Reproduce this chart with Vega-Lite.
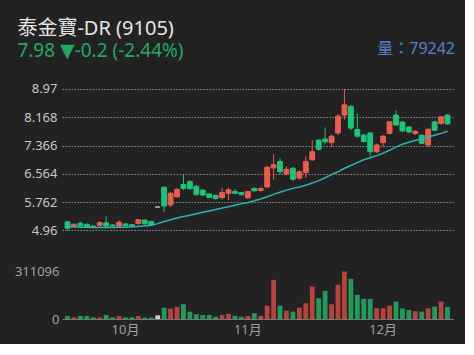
{
  "$schema": "https://vega.github.io/schema/vega-lite/v6.json",
  "background": "#222222",
  "autosize": {"type": "pad"},
  "padding": {"left": 14, "top": 19, "right": 10, "bottom": 8},
  "title": {
    "text": "泰金寶-DR (9105)",
    "subtitle": "7.98 ▼-0.2 (-2.44%)",
    "anchor": "start",
    "frame": "bounds",
    "offset": -19.6,
    "dx": 3,
    "fontSize": 20,
    "fontWeight": "normal",
    "color": "#e6e6e6",
    "font": "'Noto Sans', 'Noto Sans CJK TC', sans-serif",
    "subtitleFont": "'Noto Sans', 'DejaVu Sans', sans-serif",
    "subtitleFontSize": 19,
    "subtitleColor": "#22a863",
    "subtitlePadding": 3
  },
  "data": {
    "values": [
      {"d": "2024-09-18", "o": 5.20, "h": 5.22, "l": 4.96, "c": 5.02, "v": 20000, "ma": 5.06},
      {"d": "2024-09-19", "o": 5.07, "h": 5.15, "l": 5.03, "c": 5.13, "v": 11000, "ma": 5.06},
      {"d": "2024-09-20", "o": 5.16, "h": 5.20, "l": 5.06, "c": 5.09, "v": 20000, "ma": 5.05},
      {"d": "2024-09-23", "o": 5.13, "h": 5.15, "l": 5.04, "c": 5.05, "v": 20000, "ma": 5.05},
      {"d": "2024-09-24", "o": 5.08, "h": 5.10, "l": 5.03, "c": 5.05, "v": 11000, "ma": 5.04},
      {"d": "2024-09-25", "o": 5.10, "h": 5.22, "l": 5.06, "c": 5.18, "v": 11000, "ma": 5.04},
      {"d": "2024-09-26", "o": 5.17, "h": 5.36, "l": 5.06, "c": 5.08, "v": 26000, "ma": 5.04},
      {"d": "2024-09-27", "o": 5.11, "h": 5.13, "l": 5.06, "c": 5.08, "v": 11000, "ma": 5.04},
      {"d": "2024-09-30", "o": 5.08, "h": 5.24, "l": 5.04, "c": 5.19, "v": 20000, "ma": 5.05},
      {"d": "2024-10-01", "o": 5.14, "h": 5.16, "l": 5.07, "c": 5.09, "v": 11000, "ma": 5.05},
      {"d": "2024-10-04", "o": 5.12, "h": 5.14, "l": 5.07, "c": 5.09, "v": 11000, "ma": 5.06},
      {"d": "2024-10-07", "o": 5.15, "h": 5.28, "l": 5.12, "c": 5.26, "v": 20000, "ma": 5.07},
      {"d": "2024-10-08", "o": 5.25, "h": 5.27, "l": 5.12, "c": 5.14, "v": 9000, "ma": 5.08},
      {"d": "2024-10-09", "o": 5.21, "h": 5.23, "l": 5.09, "c": 5.11, "v": 9000, "ma": 5.10},
      {"d": "2024-10-11", "o": 5.62, "h": 5.62, "l": 5.62, "c": 5.62, "v": 24000, "ma": 5.15},
      {"d": "2024-10-14", "o": 6.18, "h": 6.20, "l": 5.49, "c": 5.65, "v": 74000, "ma": 5.21},
      {"d": "2024-10-15", "o": 5.68, "h": 6.05, "l": 5.62, "c": 6.01, "v": 68000, "ma": 5.26},
      {"d": "2024-10-16", "o": 5.91, "h": 6.16, "l": 5.88, "c": 6.12, "v": 79000, "ma": 5.31},
      {"d": "2024-10-17", "o": 6.26, "h": 6.56, "l": 6.10, "c": 6.15, "v": 96500, "ma": 5.35},
      {"d": "2024-10-18", "o": 6.34, "h": 6.38, "l": 6.12, "c": 6.14, "v": 48000, "ma": 5.39},
      {"d": "2024-10-21", "o": 6.21, "h": 6.24, "l": 5.95, "c": 5.97, "v": 31000, "ma": 5.43},
      {"d": "2024-10-22", "o": 6.10, "h": 6.12, "l": 5.94, "c": 5.96, "v": 26000, "ma": 5.47},
      {"d": "2024-10-23", "o": 5.99, "h": 6.01, "l": 5.87, "c": 5.89, "v": 26000, "ma": 5.51},
      {"d": "2024-10-24", "o": 5.95, "h": 5.97, "l": 5.83, "c": 5.86, "v": 15000, "ma": 5.55},
      {"d": "2024-10-25", "o": 5.89, "h": 6.16, "l": 5.83, "c": 6.03, "v": 26000, "ma": 5.59},
      {"d": "2024-10-28", "o": 6.01, "h": 6.17, "l": 5.82, "c": 6.11, "v": 33000, "ma": 5.63},
      {"d": "2024-10-29", "o": 6.06, "h": 6.13, "l": 5.99, "c": 6.01, "v": 20000, "ma": 5.67},
      {"d": "2024-10-30", "o": 6.03, "h": 6.05, "l": 5.95, "c": 5.97, "v": 15000, "ma": 5.71},
      {"d": "2024-11-01", "o": 5.88, "h": 6.08, "l": 5.86, "c": 6.06, "v": 20000, "ma": 5.75},
      {"d": "2024-11-04", "o": 6.15, "h": 6.18, "l": 6.06, "c": 6.08, "v": 37500, "ma": 5.80},
      {"d": "2024-11-05", "o": 6.09, "h": 6.18, "l": 6.06, "c": 6.15, "v": 19700, "ma": 5.85},
      {"d": "2024-11-06", "o": 6.19, "h": 6.78, "l": 6.17, "c": 6.75, "v": 87500, "ma": 5.91},
      {"d": "2024-11-07", "o": 6.73, "h": 7.12, "l": 6.40, "c": 6.82, "v": 256500, "ma": 5.98},
      {"d": "2024-11-08", "o": 6.91, "h": 7.00, "l": 6.55, "c": 6.62, "v": 87500, "ma": 6.04},
      {"d": "2024-11-11", "o": 6.56, "h": 6.78, "l": 6.52, "c": 6.69, "v": 54600, "ma": 6.10},
      {"d": "2024-11-12", "o": 6.72, "h": 6.76, "l": 6.35, "c": 6.41, "v": 48000, "ma": 6.15},
      {"d": "2024-11-13", "o": 6.44, "h": 6.66, "l": 6.40, "c": 6.62, "v": 74300, "ma": 6.19},
      {"d": "2024-11-14", "o": 6.60, "h": 7.05, "l": 6.45, "c": 6.91, "v": 103000, "ma": 6.24},
      {"d": "2024-11-15", "o": 6.96, "h": 7.52, "l": 6.93, "c": 7.19, "v": 212600, "ma": 6.30},
      {"d": "2024-11-18", "o": 7.52, "h": 7.55, "l": 7.22, "c": 7.26, "v": 136000, "ma": 6.37},
      {"d": "2024-11-19", "o": 7.55, "h": 7.88, "l": 7.40, "c": 7.47, "v": 184000, "ma": 6.45},
      {"d": "2024-11-20", "o": 7.45, "h": 7.67, "l": 7.33, "c": 7.63, "v": 96500, "ma": 6.54},
      {"d": "2024-11-21", "o": 7.72, "h": 8.25, "l": 7.66, "c": 8.20, "v": 223600, "ma": 6.62},
      {"d": "2024-11-22", "o": 8.23, "h": 8.97, "l": 8.10, "c": 8.52, "v": 311096, "ma": 6.72},
      {"d": "2024-11-25", "o": 8.47, "h": 8.52, "l": 7.80, "c": 7.86, "v": 263000, "ma": 6.80},
      {"d": "2024-11-26", "o": 7.82, "h": 8.28, "l": 7.60, "c": 7.63, "v": 158000, "ma": 6.88},
      {"d": "2024-11-27", "o": 7.66, "h": 7.70, "l": 7.44, "c": 7.48, "v": 131500, "ma": 6.96},
      {"d": "2024-11-28", "o": 7.72, "h": 7.75, "l": 7.05, "c": 7.19, "v": 131500, "ma": 7.02},
      {"d": "2024-11-29", "o": 7.19, "h": 7.42, "l": 7.15, "c": 7.38, "v": 70200, "ma": 7.08},
      {"d": "2024-12-02", "o": 7.45, "h": 7.66, "l": 7.33, "c": 7.63, "v": 70200, "ma": 7.15},
      {"d": "2024-12-03", "o": 7.71, "h": 8.06, "l": 7.68, "c": 8.04, "v": 87500, "ma": 7.23},
      {"d": "2024-12-04", "o": 8.23, "h": 8.36, "l": 7.92, "c": 7.95, "v": 114000, "ma": 7.32},
      {"d": "2024-12-05", "o": 8.03, "h": 8.06, "l": 7.74, "c": 7.78, "v": 70000, "ma": 7.40},
      {"d": "2024-12-06", "o": 7.89, "h": 7.92, "l": 7.72, "c": 7.75, "v": 59000, "ma": 7.46},
      {"d": "2024-12-09", "o": 7.71, "h": 7.80, "l": 7.66, "c": 7.77, "v": 50400, "ma": 7.51},
      {"d": "2024-12-10", "o": 7.66, "h": 7.68, "l": 7.40, "c": 7.43, "v": 48000, "ma": 7.56},
      {"d": "2024-12-11", "o": 7.38, "h": 7.85, "l": 7.32, "c": 7.83, "v": 70000, "ma": 7.61},
      {"d": "2024-12-12", "o": 8.04, "h": 8.07, "l": 7.78, "c": 7.80, "v": 81000, "ma": 7.66},
      {"d": "2024-12-13", "o": 7.99, "h": 8.20, "l": 7.96, "c": 8.18, "v": 114000, "ma": 7.71},
      {"d": "2024-12-16", "o": 8.23, "h": 8.25, "l": 7.95, "c": 7.98, "v": 79242, "ma": 7.77}
    ]
  },
  "spacing": 22,
  "vconcat": [
    {
      "width": 391,
      "height": 160,
      "title": {
        "text": "量：79242",
        "anchor": "end",
        "frame": "group",
        "offset": 22.6,
        "dx": 2,
        "fontSize": 16,
        "fontWeight": "normal",
        "color": "#5283c4",
        "font": "'Noto Sans', 'Noto Sans CJK TC', sans-serif"
      },
      "encoding": {
        "x": {"field": "d", "type": "ordinal", "scale": {"paddingInner": 0.25, "paddingOuter": 0.48}, "axis": null}
      },
      "layer": [
        {
          "mark": {"type": "rule", "strokeWidth": 1},
          "encoding": {
            "y": {
              "field": "l", "type": "quantitative", "title": null,
              "scale": {"domain": [4.6847, 9.2254], "nice": false, "zero": false},
              "axis": {
                "title": null,
                "values": [4.96, 5.762, 6.564, 7.366, 8.168, 8.97],
                "tickCount": 20,
                "labelExpr": "datum.value",
                "labelOverlap": false,
                "domain": false,
                "ticks": false,
                "grid": true,
                "gridColor": "#8a8a8a",
                "gridDash": [1.5, 1.5],
                "gridOpacity": 1,
                "labelColor": "#c8c8c8",
                "labelFontSize": 13,
                "labelPadding": 5,
                "labelFont": "'Noto Sans', sans-serif"
              }
            },
            "y2": {"field": "h"},
            "stroke": {
              "condition": [
                {"test": "datum.c > datum.o", "value": "#ee5b4d"},
                {"test": "datum.c < datum.o", "value": "#1ec579"}
              ],
              "value": "#bbbbbb"
            }
          }
        },
        {
          "mark": {"type": "bar", "strokeWidth": 1},
          "encoding": {
            "y": {"field": "o", "type": "quantitative", "title": null},
            "y2": {"field": "c"},
            "fill": {
              "condition": [
                {"test": "datum.c > datum.o", "value": "#ee5b4d"},
                {"test": "datum.c < datum.o", "value": "#1ec579"}
              ],
              "value": "#bbbbbb"
            },
            "stroke": {
              "condition": [
                {"test": "datum.c > datum.o", "value": "#ee5b4d"},
                {"test": "datum.c < datum.o", "value": "#1ec579"}
              ],
              "value": "#bbbbbb"
            }
          }
        },
        {
          "mark": {"type": "line", "strokeWidth": 1.5, "color": "#2ab5b5"},
          "encoding": {
            "y": {"field": "ma", "type": "quantitative", "title": null}
          }
        }
      ]
    },
    {
      "width": 391,
      "height": 57,
      "mark": {"type": "bar"},
      "encoding": {
        "x": {
          "field": "d", "type": "ordinal",
          "scale": {"paddingInner": 0.25, "paddingOuter": 0.48},
          "axis": {
            "title": null,
            "values": ["2024-10-01", "2024-11-01", "2024-12-02"],
            "labelExpr": "toNumber(slice(datum.value, 5, 7)) + '月'",
            "labelAngle": 0,
            "ticks": false,
            "grid": false,
            "domain": true,
            "domainColor": "#777777",
            "labelColor": "#a0a0a0",
            "labelFontSize": 13,
            "labelPadding": 4,
            "labelFont": "'Noto Sans', 'Noto Sans CJK TC', sans-serif"
          }
        },
        "y": {
          "field": "v", "type": "quantitative",
          "scale": {"domain": [0, 373315], "nice": false},
          "axis": {
            "title": null,
            "values": [0, 311096],
            "tickCount": 10,
            "labelExpr": "datum.value",
            "labelOverlap": false,
            "domain": false,
            "ticks": false,
            "grid": false,
            "labelColor": "#a0a0a0",
            "labelFontSize": 13,
            "labelPadding": 3,
            "labelFont": "'Noto Sans', sans-serif"
          }
        },
        "fill": {
          "condition": [
            {"test": "datum.c > datum.o", "value": "#b8433c"},
            {"test": "datum.c < datum.o", "value": "#1f9b5c"}
          ],
          "value": "#c8c8c8"
        }
      }
    }
  ],
  "config": {
    "view": {"stroke": null},
    "font": "'Noto Sans', 'Noto Sans CJK TC', sans-serif"
  }
}
